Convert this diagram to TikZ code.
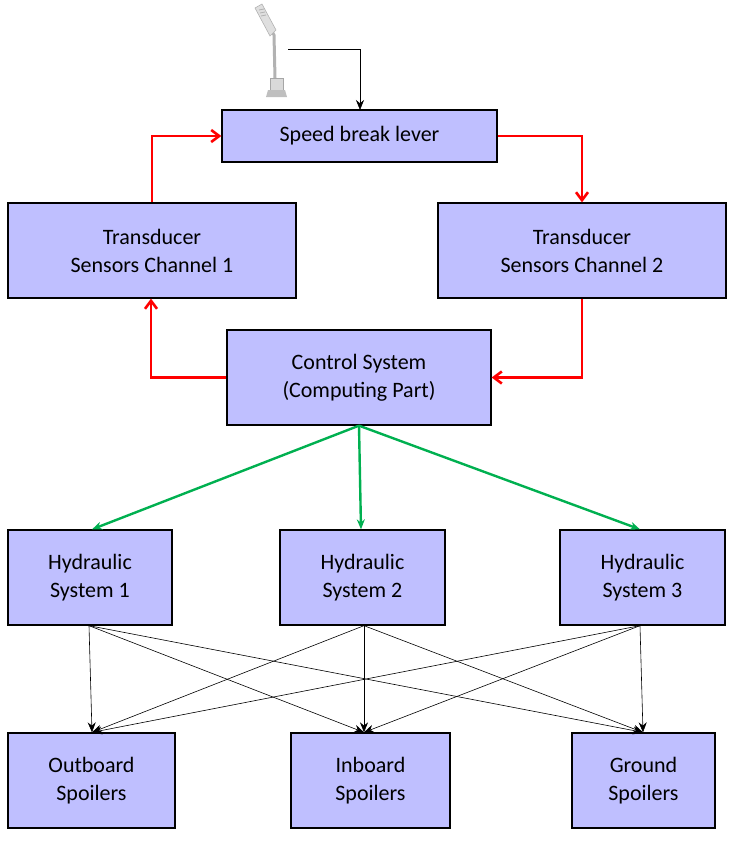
\documentclass[tikz,border=0pt]{standalone}
\usepackage{fontspec}
\setmainfont{Carlito}
\usetikzlibrary{arrows.meta}
\definecolor{boxfill}{RGB}{191,191,255}
\definecolor{redc}{RGB}{255,0,0}
\definecolor{greenc}{RGB}{0,176,80}
\begin{document}
\begin{tikzpicture}[x=1pt,y=-1pt,
  box/.style={draw=black,line width=1.3pt,fill=boxfill,align=center,inner sep=0pt,font=\fontsize{22}{28}\selectfont},
  red/.style={draw=redc,line width=2.6pt,-{Straight Barb[length=8pt,width=12pt]}},
  grn/.style={draw=greenc,line width=2.4pt,-{Stealth[length=10pt,width=8pt]}},
  blk/.style={draw=black,line width=0.6pt,-{Stealth[length=10pt,width=8pt]}}]
\useasboundingbox (0,0) rectangle (730,841);
\newcommand{\bx}[6]{\node[box,minimum width=#4-#2,minimum height=#5-#3] (#1) at ({(#2+#4)/2},{(#3+#5)/2}) {#6};}
\bx{lev}{222}{110}{497}{162}{Speed break lever}
\bx{t1}{8}{203}{296}{298}{Transducer\\Sensors Channel 1}
\bx{t2}{438}{203}{726}{298}{Transducer\\Sensors Channel 2}
\bx{cs}{227}{330}{491}{425}{Control System\\(Computing Part)}
\bx{h1}{8}{530}{172}{625}{Hydraulic\\System 1}
\bx{h2}{280}{530}{445}{625}{Hydraulic\\System 2}
\bx{h3}{560}{530}{725}{625}{Hydraulic\\System 3}
\bx{o}{8}{733}{175}{828}{Outboard\\Spoilers}
\bx{i}{291}{733}{450}{828}{Inboard\\Spoilers}
\bx{g}{572}{733}{715}{828}{Ground\\Spoilers}
% lever picture
\fill[gray!30,draw=gray!70,line width=0.5pt] (270,78) rectangle (283,90);
\fill[gray!50] (268,90) -- (285,90) -- (287,97) -- (266,97) -- cycle;
\draw[gray!60,line width=3pt] (275,78) -- (274,35) -- (271,30);
\fill[gray!25,draw=gray!60,line width=0.6pt] (255,8) -- (262,4) -- (276,30) -- (270,36) -- cycle;
\draw[gray!60,line width=0.8pt] (259,10) -- (264,9) (260,13) -- (265,12) (261,16) -- (266,15);
\coordinate (lv) at (288,49);
\draw[blk] (lv) -- (360,49) -- (360,110);
% red loop
\draw[red] (t1.north) |- (lev.west);
\draw[red] (lev.east) -| (t2.north -| 582,0);
\draw[red] (t2.south -| 582,0) |- (cs.east);
\draw[red] (cs.west) -| (t1.south -| 151,0);
% green
\draw[grn] (cs.south) -- (h1.north -| 92,0);
\draw[grn] (cs.south) -- (h2.north -| 361,0);
\draw[grn] (cs.south) -- (h3.north -| 640,0);
% black
\foreach \s/\sx in {h1/89,h2/364,h3/640}
  \foreach \t/\tx in {o/92,i/364,g/643}
    \draw[blk] (\s.south -| \sx,0) -- (\t.north -| \tx,0);
\end{tikzpicture}
\end{document}
